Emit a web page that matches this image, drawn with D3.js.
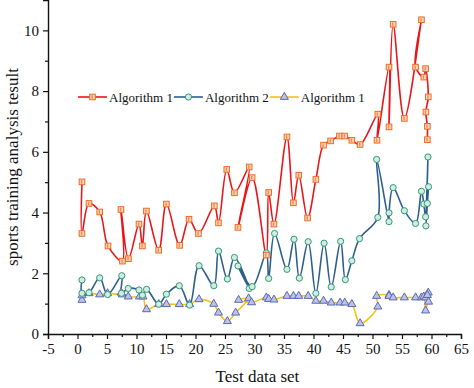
<!DOCTYPE html>
<html>
<head>
<meta charset="utf-8">
<script src="https://cdn.jsdelivr.net/npm/d3@7"></script>
<style>
  body { margin: 0; background: #fff; }
  svg text { font-family: "Liberation Serif", "DejaVu Serif", serif; fill: #111; }
</style>
</head>
<body>
<div id="chart"></div>
<script>
// Algorithm 1 (red, squares)
const xAlg1 = [0.76, 0.76, 1.95, 3.76, 5.17, 7.61, 7.37, 8.63, 10.42, 11.0, 11.68, 13.76, 15.07, 17.32, 18.9, 20.5,
    23.2, 23.9, 25.3, 26.6, 29.1, 27.2, 29.6, 32.0, 32.4, 33.3, 35.5, 36.6, 37.5, 39.0, 40.4, 41.7, 42.9, 44.4, 45.3,
    46.5, 47.9, 50.9, 50.76, 52.8, 52.8, 53.5, 55.4, 58.3, 57.3, 58.7, 59.0, 59.45, 59.05, 59.3, 59.3];
const yAlg1 = [5.01, 3.31, 4.30, 4.02, 2.90, 2.40, 4.10, 2.48, 3.62, 2.90, 4.05, 2.76, 4.28, 2.92, 3.78, 3.31,
    4.22, 3.66, 5.42, 4.65, 5.50, 3.51, 5.15, 2.60, 4.66, 3.62, 6.49, 4.32, 5.23, 3.82, 5.09, 6.22, 6.36, 6.52, 6.52,
    6.38, 6.24, 7.24, 6.38, 8.79, 6.82, 10.2, 7.10, 10.35, 8.79, 8.46, 8.74, 7.81, 7.31, 6.84, 6.40];

// Algorithm 2 (blue line, circles)
const xAlg2 = [0.76, 0.76, 1.95, 3.76, 5.1, 7.5, 7.45, 8.6, 10.42, 11.0, 11.7, 13.76, 15.07, 17.25, 19.0, 20.6,
    23.1, 23.9, 25.4, 26.6, 29.1, 27.2, 29.6, 32.0, 32.4, 33.4, 35.5, 36.7, 37.6, 39.1, 40.4, 41.8, 43.0, 44.6, 45.4,
    46.5, 47.8, 50.9, 50.7, 52.8, 52.8, 53.5, 55.4, 57.3, 58.3, 58.7, 59.0, 59.4, 59.05, 59.3, 59.5];
const yAlg2 = [1.78, 1.34, 1.36, 1.85, 1.30, 1.92, 1.34, 1.50, 1.45, 1.28, 1.47, 0.98, 1.31, 1.59, 0.95, 2.25,
    1.59, 2.73, 1.81, 2.52, 1.50, 2.24, 1.56, 2.67, 1.83, 3.31, 2.13, 3.12, 1.84, 3.04, 1.34, 2.99, 1.55, 3.05, 1.79,
    2.41, 3.14, 3.84, 5.75, 3.70, 3.99, 4.82, 4.06, 3.64, 4.70, 4.28, 3.86, 5.83, 3.56, 4.30, 4.85];

// third series, also labelled "Algorithm 1" in the legend (yellow line, triangles)
const xAlg3 = [0.76, 0.76, 1.95, 3.76, 5.1, 7.6, 7.4, 8.6, 10.5, 11.1, 11.7, 13.76, 15.07, 17.25, 19.0, 20.6,
    23.1, 23.9, 25.4, 26.8, 29.0, 27.3, 29.5, 32.0, 32.4, 33.3, 35.5, 36.6, 37.5, 39.1, 40.4, 41.7, 43.0, 44.5, 45.3,
    46.5, 47.9, 50.9, 50.7, 52.8, 52.8, 53.5, 55.4, 57.3, 58.3, 58.7, 59.0, 59.45, 59.05, 59.3, 59.5];
const yAlg3 = [1.12, 1.27, 1.34, 1.30, 1.34, 1.30, 1.36, 1.23, 1.23, 1.23, 0.81, 0.98, 0.98, 0.98, 0.98, 1.14,
    0.99, 0.70, 0.42, 0.70, 1.17, 1.12, 1.04, 1.20, 1.15, 1.13, 1.25, 1.25, 1.25, 1.25, 1.09, 1.09, 1.03, 1.03, 1.03,
    0.98, 0.35, 0.90, 1.25, 1.28, 1.25, 1.20, 1.20, 1.20, 1.20, 1.23, 0.77, 1.36, 1.20, 1.28, 1.06];

const seriesNames = ["Algorithm 1", "Algorithm 2", "Algorithm 1"];
const xTicks = d3.range(-5, 66, 5);
const yTicks = [0, 2, 4, 6, 8, 10];

const width = 474, height = 388;
const margin = { top: 0, right: 13, bottom: 54, left: 48 };
const innerW = width - margin.left - margin.right;
const innerH = height - margin.top - margin.bottom;

const svg = d3.select("#chart")
    .append("svg")
    .attr("width", width)
    .attr("height", height);

const g = svg.append("g")
    .attr("transform", `translate(${margin.left}, ${margin.top})`);

const x = d3.scaleLinear().domain([-5, 65]).range([0, innerW]);
const y = d3.scaleLinear().domain([0, 11]).range([innerH, 0]);

// Axes: major + minor ticks
g.append("g")
    .attr("transform", `translate(0, ${innerH})`)
    .call(d3.axisBottom(x).tickValues(xTicks).tickSize(5).tickPadding(4).tickFormat(d => String(d)));
g.append("g")
    .attr("transform", `translate(0, ${innerH})`)
    .call(d3.axisBottom(x).tickValues(d3.range(-2.5, 65, 5)).tickSize(3).tickFormat(""))
    .select(".domain").remove();

g.append("g")
    .call(d3.axisLeft(y).tickValues(yTicks).tickSize(5).tickPadding(4).tickFormat(d => String(d)));
g.append("g")
    .call(d3.axisLeft(y).tickValues([1, 3, 5, 7, 9]).tickSize(3).tickFormat(""))
    .select(".domain").remove();

g.selectAll(".domain").attr("stroke", "#111").attr("stroke-width", 1.4);
g.selectAll(".tick line").attr("stroke", "#111").attr("stroke-width", 1.2);
g.selectAll(".tick text").attr("font-size", 15).attr("fill", "#111");

// Axis titles
svg.append("text")
    .attr("x", margin.left + x(30.5))
    .attr("y", 382)
    .attr("text-anchor", "middle")
    .attr("font-size", 17)
    .text("Test data set");

svg.append("text")
    .attr("transform", `translate(18, ${167}) rotate(-90)`)
    .attr("text-anchor", "middle")
    .attr("font-size", 17)
    .text("sports training analysis tesult");

// Series
const series = [
    { xs: xAlg1, ys: yAlg1, line: "#e8161b", stroke: "#ef6a22", fill: "#fbd6bb", shape: "square" },
    { xs: xAlg2, ys: yAlg2, line: "#2d5e8e", stroke: "#2f9a7a", fill: "#d3ebe0", shape: "circle" },
    { xs: xAlg3, ys: yAlg3, line: "#f3c417", stroke: "#5a68b4", fill: "#bcc3e8", shape: "triangle" }
];

const lineGen = d3.line()
    .x(d => x(d[0]))
    .y(d => y(d[1]))
    .curve(d3.curveCatmullRom.alpha(0.5));

function drawMarker(sel, s) {
    if (s.shape === "square") {
        sel.append("rect")
            .attr("x", -2.8).attr("y", -2.8).attr("width", 5.6).attr("height", 5.6)
            .attr("fill", s.fill).attr("stroke", s.stroke).attr("stroke-width", 1);
        sel.append("rect")
            .attr("x", -1.1).attr("y", -1.8).attr("width", 1.4).attr("height", 3.6)
            .attr("fill", s.stroke).attr("opacity", 0.7);
    } else if (s.shape === "circle") {
        sel.append("circle")
            .attr("r", 3.1)
            .attr("fill", s.fill).attr("stroke", s.stroke).attr("stroke-width", 1);
    } else {
        sel.append("path")
            .attr("d", d3.symbol(d3.symbolTriangle, 28)())
            .attr("fill", s.fill).attr("stroke", s.stroke).attr("stroke-width", 1);
    }
}

// draw yellow first, then blue, then red on top
[2, 1, 0].forEach(i => {
    const s = series[i];
    const pts = s.xs.map((v, j) => [v, s.ys[j]]);
    g.append("path")
        .datum(pts)
        .attr("fill", "none")
        .attr("stroke", s.line)
        .attr("stroke-width", 1.6)
        .attr("d", lineGen);
});
[2, 1, 0].forEach(i => {
    const s = series[i];
    const pts = s.xs.map((v, j) => [v, s.ys[j]]);
    g.append("g").selectAll("g")
        .data(pts)
        .enter()
        .append("g")
        .attr("transform", d => `translate(${x(d[0])}, ${y(d[1])})`)
        .each(function () { drawMarker(d3.select(this), s); });
});

// Legend
const legend = svg.append("g").attr("transform", "translate(78, 97)");
let lx = 0;
series.forEach((s, i) => {
    const item = legend.append("g").attr("transform", `translate(${lx}, 0)`);
    item.append("line")
        .attr("x1", 0).attr("x2", 29).attr("y1", 0).attr("y2", 0)
        .attr("stroke", s.line).attr("stroke-width", 1.6);
    const m = item.append("g").attr("transform", "translate(14.5, 0)");
    drawMarker(m, s);
    const t = item.append("text")
        .attr("x", 31)
        .attr("y", 4.5)
        .attr("font-size", 13)
        .text(seriesNames[i]);
    lx += 31 + t.node().getComputedTextLength() + 1;
});
</script>
</body>
</html>
